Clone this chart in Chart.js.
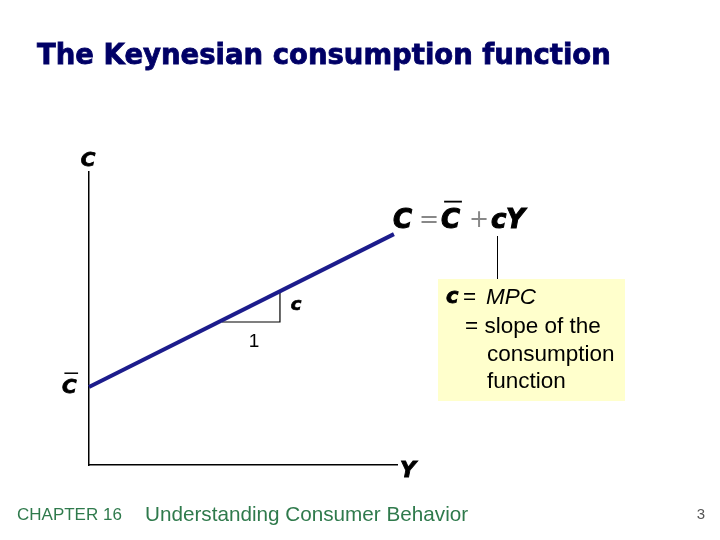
<!DOCTYPE html>
<html>
<head>
<meta charset="utf-8">
<script src="https://cdn.jsdelivr.net/npm/chart.js@4.4.1/dist/chart.umd.min.js"></script>
<style>
  html, body { margin: 0; padding: 0; background: #fff; }
  #wrap { width: 720px; height: 540px; }
</style>
</head>
<body>
<div id="wrap"><canvas id="cf" width="720" height="540"></canvas></div>
<script>
// values (income Y on x, consumption C on y, arbitrary units)
const incomeY = [0, 9.9];
const consumptionC = [2.66, 7.88];
const slopeTriY = [4.32, 6.2, 6.2];
const slopeTriC = [4.88, 4.88, 5.87];
const axisMin = 0, axisMax = 10;

const lineColor = '#1c1c8c';
const footGreen = '#2f7a4c';

const toPts = (xs, ys) => xs.map((x, i) => ({x: x, y: ys[i]}));

// heavy italic letter (the slide font is blacker than DejaVu bold)
function heavy(ctx, txt, x, y, size) {
  ctx.font = 'italic bold ' + size + 'px "DejaVu Sans"';
  ctx.lineWidth = size * 0.04;
  ctx.strokeStyle = ctx.fillStyle;
  ctx.fillText(txt, x, y);
  ctx.strokeText(txt, x, y);
}

function barC(ctx, x, y, size) {
  heavy(ctx, 'C', x, y, size);
  const w = ctx.measureText('C').width;
  ctx.fillRect(x + size * 0.12, y - size * 0.78, w - size * 0.05, Math.max(1.5, size * 0.07));
}

const slideText = {
  id: 'slideText',
  afterDraw(chart) {
    const ctx = chart.ctx;
    const xs = chart.scales.x, ys = chart.scales.y;
    ctx.save();

    // title
    ctx.fillStyle = '#000066';
    ctx.strokeStyle = '#000066';
    ctx.lineWidth = 0.8;
    ctx.font = 'bold 27.5px "DejaVu Sans"';
    ctx.textAlign = 'left';
    ctx.textBaseline = 'middle';
    ctx.fillText('The Keynesian consumption function', 37, 57);
    ctx.strokeText('The Keynesian consumption function', 37, 57);

    // axis letters
    ctx.fillStyle = '#000';
    ctx.textAlign = 'center';
    heavy(ctx, 'C', xs.left - 1, ys.top - 11, 20);
    heavy(ctx, 'Y', xs.right + 11, ys.bottom + 6, 22);

    // intercept label
    ctx.textAlign = 'left';
    barC(ctx, 62, ys.getPixelForValue(consumptionC[0]) + 1, 20);

    // slope triangle labels
    ctx.fillStyle = '#000';
    ctx.textAlign = 'center';
    ctx.textBaseline = 'middle';
    heavy(ctx, 'c', xs.getPixelForValue(slopeTriY[1]) + 16, ys.getPixelForValue((slopeTriC[1] + slopeTriC[2]) / 2) - 2, 18);
    ctx.font = '19px "Liberation Sans"';
    ctx.fillText('1', xs.getPixelForValue((slopeTriY[0] + slopeTriY[1]) / 2) + 3, ys.getPixelForValue(slopeTriC[0]) + 20);

    // equation C = Cbar + cY
    const ey = 221;
    ctx.textAlign = 'left';
    ctx.fillStyle = '#000';
    heavy(ctx, 'C', 393, ey, 26);
    ctx.fillStyle = '#888';
    ctx.font = '24px "DejaVu Sans"';
    ctx.fillText('=', 419, ey);
    ctx.fillStyle = '#000';
    barC(ctx, 441, ey, 26);
    ctx.fillStyle = '#888';
    ctx.font = '24px "DejaVu Sans"';
    ctx.fillText('+', 469, ey);
    ctx.fillStyle = '#000';
    heavy(ctx, 'c', 491, ey, 26);
    heavy(ctx, 'Y', 506, ey, 26);

    // pointer and note box
    ctx.strokeStyle = '#000';
    ctx.lineWidth = 1;
    ctx.beginPath();
    ctx.moveTo(497.5, 236);
    ctx.lineTo(497.5, 279);
    ctx.stroke();
    ctx.fillStyle = '#ffffcc';
    ctx.fillRect(438, 279, 187, 122);

    ctx.fillStyle = '#000';
    ctx.textBaseline = 'middle';
    heavy(ctx, 'c', 446, 298, 21);
    ctx.font = '22.5px "Liberation Sans"';
    ctx.fillText('=', 463, 298);
    ctx.font = 'italic 22.5px "Liberation Sans"';
    ctx.fillText('MPC', 486, 298);
    ctx.font = '22.5px "Liberation Sans"';
    ctx.fillText('= slope of the', 465, 327);
    ctx.fillText('consumption', 487, 355);
    ctx.fillText('function', 487, 382);

    // footer
    ctx.fillStyle = footGreen;
    ctx.font = '17px "Liberation Sans"';
    ctx.fillText('CHAPTER 16', 17, 515);
    ctx.font = '20.7px "Liberation Sans"';
    ctx.fillText('Understanding Consumer Behavior', 145, 515);
    ctx.fillStyle = '#555';
    ctx.font = '15px "Liberation Sans"';
    ctx.textAlign = 'right';
    ctx.fillText('3', 705, 515);

    ctx.restore();
  }
};

const hideScale = {
  grid: {display: false},
  ticks: {display: false},
  border: {display: true, color: '#000', width: 1.5}
};

new Chart(document.getElementById('cf').getContext('2d'), {
  type: 'scatter',
  data: {
    datasets: [
      {
        data: toPts(incomeY, consumptionC),
        showLine: true,
        borderColor: lineColor,
        borderWidth: 4,
        pointRadius: 0,
        clip: false
      },
      {
        data: toPts(slopeTriY, slopeTriC),
        showLine: true,
        borderColor: '#000',
        borderWidth: 1.2,
        pointRadius: 0
      }
    ]
  },
  options: {
    responsive: false,
    animation: false,
    layout: {padding: {left: 89, right: 323, top: 172, bottom: 75}},
    plugins: {legend: {display: false}, tooltip: {enabled: false}},
    scales: {
      x: Object.assign({type: 'linear', min: axisMin, max: axisMax,
        afterFit: s => { s.height = 0; }}, hideScale),
      y: Object.assign({type: 'linear', min: axisMin, max: axisMax,
        afterFit: s => { s.width = 0; }}, hideScale)
    }
  },
  plugins: [slideText]
});
</script>
</body>
</html>
